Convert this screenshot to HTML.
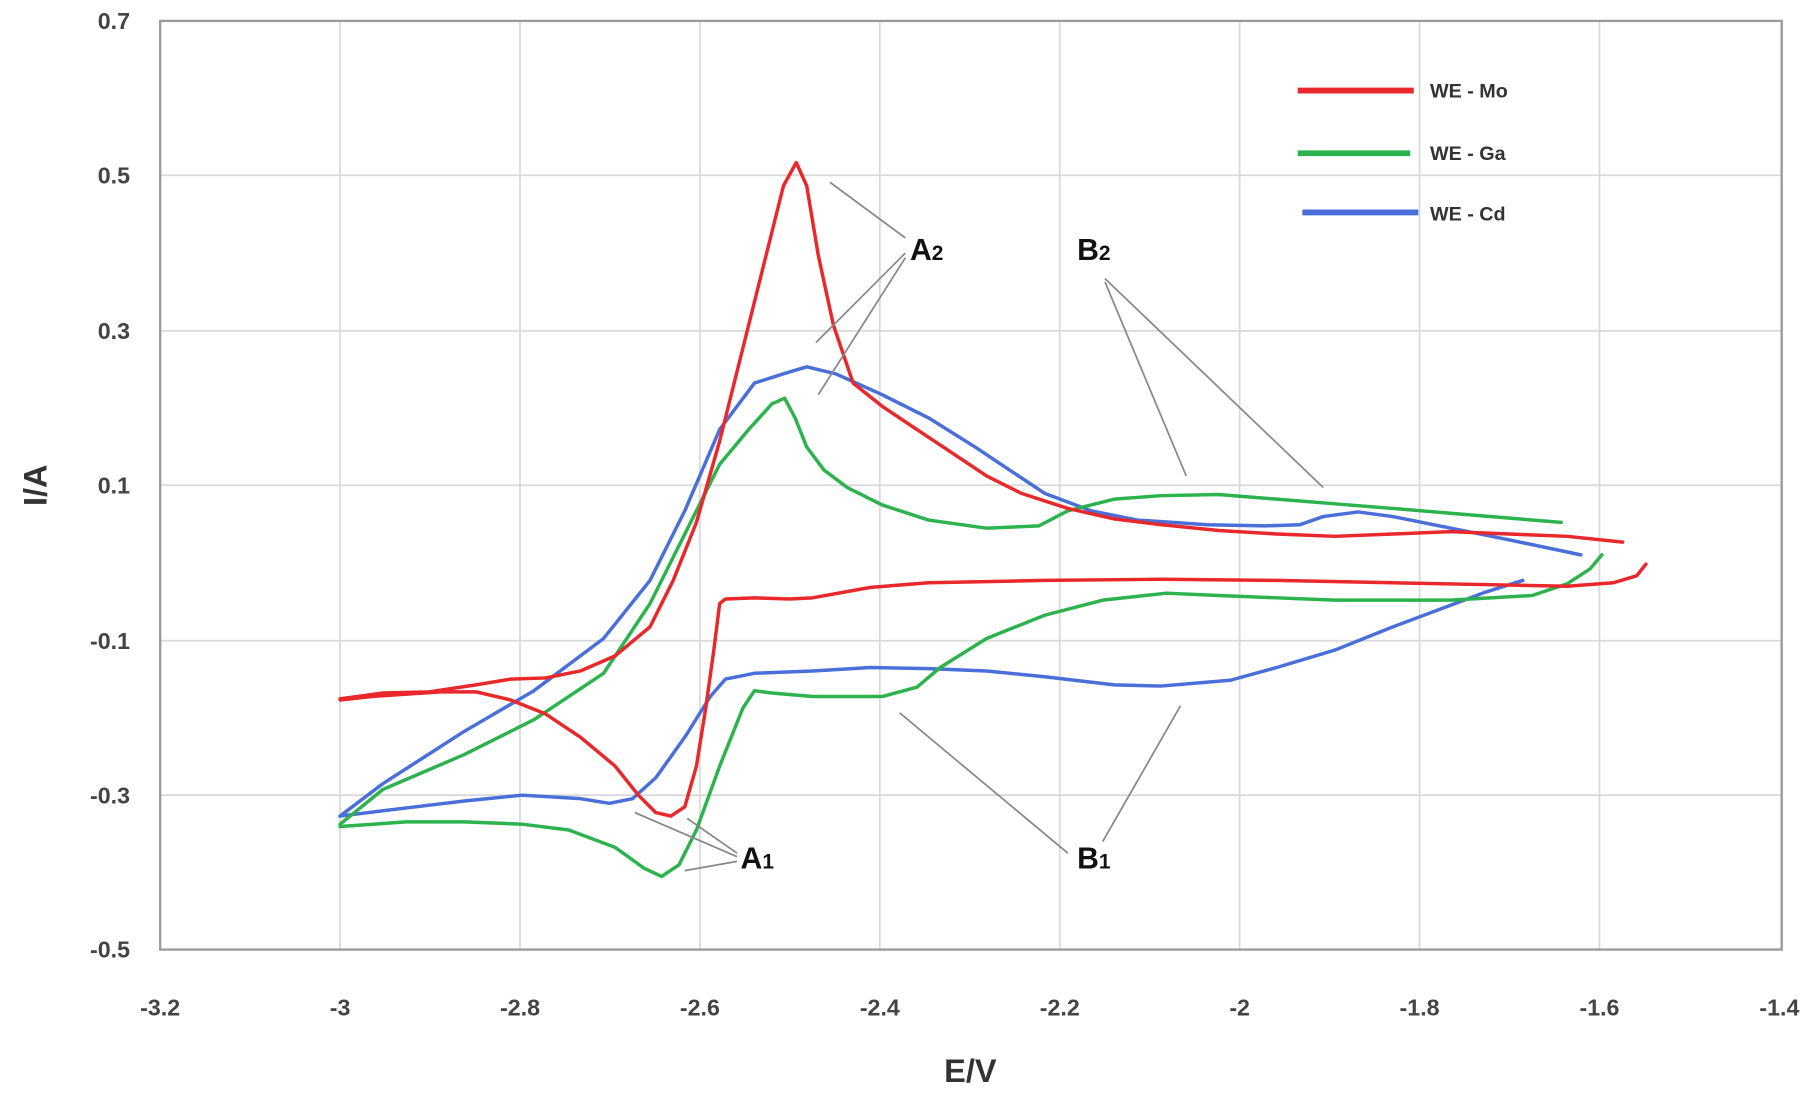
<!DOCTYPE html>
<html><head><meta charset="utf-8"><style>
html,body{margin:0;padding:0;background:#fff;}
svg{display:block}
text{font-family:"Liberation Sans",sans-serif;}
</style></head><body>
<svg width="1820" height="1097" viewBox="0 0 1568 945" preserveAspectRatio="none" xmlns="http://www.w3.org/2000/svg">
<rect width="1568" height="945" fill="#fff"/>
<g stroke="#d9d9d9" stroke-width="1.5">
<line x1="293" y1="18" x2="293" y2="818"/><line x1="448" y1="18" x2="448" y2="818"/><line x1="603" y1="18" x2="603" y2="818"/><line x1="758" y1="18" x2="758" y2="818"/><line x1="913" y1="18" x2="913" y2="818"/><line x1="1068" y1="18" x2="1068" y2="818"/><line x1="1223" y1="18" x2="1223" y2="818"/><line x1="1378" y1="18" x2="1378" y2="818"/>
<line x1="138" y1="151" x2="1535" y2="151"/><line x1="138" y1="285" x2="1535" y2="285"/><line x1="138" y1="418" x2="1535" y2="418"/><line x1="138" y1="552" x2="1535" y2="552"/><line x1="138" y1="685" x2="1535" y2="685"/>
</g>
<rect x="138" y="18" width="1397" height="800" fill="none" stroke="#9a9a9a" stroke-width="2"/>
<g font-size="20" font-weight="bold" fill="#444" text-anchor="end">
<text x="112" y="25">0.7</text><text x="112" y="158">0.5</text><text x="112" y="292">0.3</text><text x="112" y="425">0.1</text><text x="112" y="559">-0.1</text><text x="112" y="692">-0.3</text><text x="112" y="825">-0.5</text>
</g>
<g font-size="20" font-weight="bold" fill="#444" text-anchor="middle">
<text x="138" y="875">-3.2</text><text x="293" y="875">-3</text><text x="448" y="875">-2.8</text><text x="603" y="875">-2.6</text><text x="758" y="875">-2.4</text><text x="913" y="875">-2.2</text><text x="1068" y="875">-2</text><text x="1223" y="875">-1.8</text><text x="1378" y="875">-1.6</text><text x="1533" y="875">-1.4</text>
</g>
<text x="836" y="932" font-size="28" font-weight="bold" fill="#333" text-anchor="middle">E/V</text>
<text transform="translate(40,418) rotate(-90)" font-size="28" font-weight="bold" fill="#333" text-anchor="middle">I/A</text>
<g fill="none" stroke-width="3" stroke-linejoin="round" stroke-linecap="round">
<polyline stroke="#4a6fd8" points="293,703 330,675 400,630 460,595 520,550 560,500 590,440 620,370 650,330 675,322 695,316 720,322 760,340 800,360 840,385 870,405 900,425 940,440 980,448 1040,452 1090,453 1120,452 1140,445 1170,441 1200,445 1250,455 1300,465 1362,478"/>
<polyline stroke="#4a6fd8" points="1312,500 1280,510 1240,525 1200,540 1150,560 1100,575 1060,586 1000,591 960,590 900,583 850,578 800,576 750,575 700,578 650,580 625,585 612,600 590,635 565,670 545,688 525,692 500,688 450,685 400,690 350,696 293,703"/>
<polyline stroke="#2db34e" points="293,710 330,680 400,650 460,620 520,580 560,520 590,460 620,400 645,370 665,348 676,343 685,360 695,385 710,405 730,420 760,435 800,448 850,455 895,453 920,440 960,430 1000,427 1050,426 1100,430 1150,434 1200,438 1260,443 1345,450"/>
<polyline stroke="#2db34e" points="1380,478 1370,490 1350,503 1320,513 1250,517 1150,517 1050,513 1005,511 950,517 900,530 850,550 810,575 790,592 760,600 700,600 665,597 650,595 640,610 620,660 600,715 585,745 570,755 555,748 530,730 490,715 450,710 400,708 350,708 293,712"/>
<polyline stroke="#e8282a" points="293,602 330,597 370,596 410,590 440,585 470,584 500,578 530,565 560,540 580,500 600,450 620,380 640,300 660,220 675,160 686,140 695,160 705,220 718,280 735,330 760,350 790,370 820,390 850,410 880,425 920,438 960,447 1000,452 1050,457 1100,460 1150,462 1200,460 1250,458 1300,460 1350,462 1398,467"/>
<polyline stroke="#e8282a" points="1418,486 1410,496 1390,502 1350,505 1300,504 1200,502 1100,500 1000,499 900,500 800,502 750,506 700,515 680,516 650,515 625,516 620,520 615,560 608,610 600,660 590,695 578,703 565,700 550,685 530,660 500,635 470,615 440,603 410,596 380,596 350,598 320,600 293,603"/>
</g>
<g stroke="#888" stroke-width="1.5">
<line x1="715" y1="157" x2="780" y2="205"/><line x1="703" y1="295" x2="780" y2="218"/><line x1="705" y1="340" x2="780" y2="222"/>
<line x1="952" y1="243" x2="1022" y2="410"/><line x1="952" y1="240" x2="1140" y2="420"/>
<line x1="547" y1="700" x2="635" y2="738"/><line x1="592" y1="705" x2="635" y2="735"/><line x1="590" y1="750" x2="635" y2="742"/>
<line x1="775" y1="614" x2="920" y2="735"/><line x1="1017" y1="608" x2="950" y2="725"/>
</g>
<g font-size="26" font-weight="bold" fill="#111">
<text x="784" y="224">A<tspan font-size="18">2</tspan></text>
<text x="928" y="224">B<tspan font-size="18">2</tspan></text>
<text x="638" y="748">A<tspan font-size="18">1</tspan></text>
<text x="928" y="748">B<tspan font-size="18">1</tspan></text>
</g>
<g stroke-width="5">
<line x1="1118" y1="78" x2="1218" y2="78" stroke="#e8282a"/>
<line x1="1118" y1="132" x2="1215" y2="132" stroke="#2db34e"/>
<line x1="1122" y1="183" x2="1222" y2="183" stroke="#4a6fd8"/>
</g>
<g font-size="17" font-weight="bold" fill="#333">
<text x="1232" y="84">WE - Mo</text><text x="1232" y="138">WE - Ga</text><text x="1232" y="190">WE - Cd</text>
</g>
</svg>
</body></html>
